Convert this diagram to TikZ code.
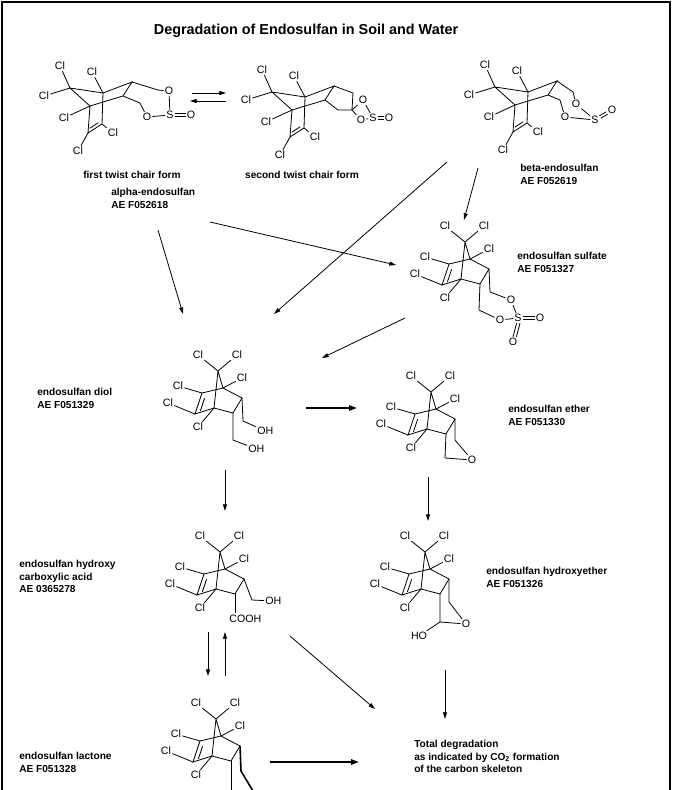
\documentclass[tikz,border=0pt]{standalone}
\usepackage{fontspec}
\setmainfont{Liberation Sans}
\usetikzlibrary{arrows.meta,calc,positioning}

\tikzset{
  bond/.style={line width=0.6pt},
  cl/.style={inner sep=0.8pt,font=\fontsize{8}{8.5}\selectfont},
  lbl/.style={inner sep=0pt,anchor=north west,align=left,font=\bfseries\fontsize{7.6}{9.4}\selectfont},
  route/.style={line width=0.6pt,-{Triangle[length=5pt,width=3pt]}},
  bigroute/.style={line width=1.3pt,-{Triangle[length=6pt,width=4pt]}},
}

% hexachloro core, upright view, origin at the bridge carbon
\newcommand{\uprightcore}{%
  \coordinate (c7) at (0,0);
  \coordinate (c1) at (5,17);
  \coordinate (c5) at (24,27);
  \coordinate (c6) at (15,42);
  \coordinate (c4) at (-4,37);
  \coordinate (c2) at (-16,22);
  \coordinate (c3) at (-23,43);
  \node[cl] (x1) at (-20,-16) {Cl};
  \node[cl] (x2) at (19,-16) {Cl};
  \node[cl] (x3) at (24,7) {Cl};
  \node[cl] (x4) at (-40,15) {Cl};
  \node[cl] (x5) at (-50,32) {Cl};
  \node[cl] (x6) at (-20,56) {Cl};
  \draw[bond] (c7) -- (c1) -- (c5) -- (c6) -- (c4) -- (c7);
  \draw[bond] (c1) -- (c2) -- (c3) -- (c4);
  \draw[bond] ($(c2)!.2!(c3)+(4,1)$) -- ($(c2)!.8!(c3)+(4,1)$);
  \draw[bond] (c7) -- (x1) (c7) -- (x2) (c1) -- (x3)
              (c2) -- (x4) (c3) -- (x5) (c4) -- (x6);
}

% hexachloro core, twist chair view, origin at the CCl2 carbon
\newcommand{\sidecore}{%
  \coordinate (c7) at (0,0);
  \coordinate (ca) at (33,5);
  \coordinate (cb) at (20,18);
  \coordinate (c2) at (32,36);
  \coordinate (c3) at (18,45);
  \coordinate (c5) at (62,-6);
  \coordinate (c6) at (53,8);
  \node[cl] (x1) at (-10,-22) {Cl};
  \node[cl] (x2) at (-26,8) {Cl};
  \node[cl] (x3) at (22,-16) {Cl};
  \node[cl] (x4) at (-6,30) {Cl};
  \node[cl] (x5) at (43,45) {Cl};
  \node[cl] (x6) at (8,63) {Cl};
  \draw[bond] (x1) -- (c7) -- (ca) -- (c5) -- (c6) -- (cb) -- (c7) -- (x2);
  \draw[bond] (ca) -- (x3) (cb) -- (x4) (c2) -- (x5) (c3) -- (x6);
  \draw[bond] (ca) -- (c2) -- (c3) -- (cb);
  \draw[bond] ($(c2)!.2!(c3)+(-1,-3)$) -- ($(c2)!.8!(c3)+(-1,-3)$);
}

\begin{document}
\begin{tikzpicture}[x=0.75pt,y=-0.75pt]
\useasboundingbox (0,0) rectangle (678,790);
\draw[line width=0.8pt] (2,800) -- (2,2) -- (670,2) -- (670,800);

\node[inner sep=0pt,font=\bfseries\fontsize{10.8}{12}\selectfont] (title) at (306,31)
  {Degradation of Endosulfan in Soil and Water};

% alpha-endosulfan, first twist chair form
\begin{scope}[shift={(70,88)}]
  \sidecore
  \node[cl] (o1) at (99,3) {O};
  \node[cl] (o2) at (77,29) {O};
  \node[cl] (s) at (100,27) {S};
  \node[cl] (so) at (121,27) {O};
  \draw[bond] (c5) -- (88,2) -- (o1);
  \draw[bond] (c6) -- (70,15) -- (o2);
  \draw[bond] (o1) -- (s) -- (o2);
  \draw[bond] ([yshift=1pt]s.east) -- ([yshift=1pt]so.west);
  \draw[bond] ([yshift=-1pt]s.east) -- ([yshift=-1pt]so.west);
\end{scope}

% alpha-endosulfan, second twist chair form
\begin{scope}[shift={(272,92)}]
  \sidecore
  \coordinate (sp) at (80,18);
  \node[cl] (o1) at (91,8) {O};
  \node[cl] (o2) at (89,28) {O};
  \node[cl] (s) at (101,26) {S};
  \node[cl] (so) at (117,26) {O};
  \draw[bond] (c5) -- (81,1) -- (sp) -- (66,18) -- (c6);
  \draw[bond] (sp) -- (o1) (sp) -- (o2);
  \draw[bond] (o1) -- (s) -- (o2);
  \draw[bond] ([yshift=1pt]s.east) -- ([yshift=1pt]so.west);
  \draw[bond] ([yshift=-1pt]s.east) -- ([yshift=-1pt]so.west);
\end{scope}

% beta-endosulfan
\begin{scope}[shift={(495,87)}]
  \sidecore
  \node[cl] (o1) at (81,17) {O};
  \node[cl] (o2) at (70,30) {O};
  \node[cl] (s) at (100,33) {S};
  \node[cl] (so) at (117,23) {O};
  \draw[bond] (c5) -- (78,5) -- (o1);
  \draw[bond] (c6) -- (65,13) -- (o2);
  \draw[bond] (o1) -- (s) -- (o2);
  \draw[bond] ($(s)!.3!(so)+(-0.7,-1.2)$) -- ($(s)!.7!(so)+(-0.7,-1.2)$);
  \draw[bond] ($(s)!.3!(so)+(0.7,1.2)$) -- ($(s)!.7!(so)+(0.7,1.2)$);
\end{scope}

% endosulfan sulfate
\begin{scope}[shift={(465,242)}]
  \uprightcore
  \node[cl] (o1) at (46,58) {O};
  \node[cl] (o2) at (35,78) {O};
  \node[cl] (s) at (53,76) {S};
  \node[cl] (so) at (75,76) {O};
  \node[cl] (sb) at (48,100) {O};
  \draw[bond] (c5) -- (25,50) -- (o1);
  \draw[bond] (c6) -- (14,68) -- (o2);
  \draw[bond] (o1) -- (s) -- (o2);
  \draw[line width=1pt] ([yshift=1.2pt]s.east) -- ([yshift=1.2pt]so.west);
  \draw[line width=1pt] ([yshift=-1.2pt]s.east) -- ([yshift=-1.2pt]so.west);
  \draw[bond] ([xshift=-1pt]s.south) -- ([xshift=0pt]sb.north);
  \draw[bond] ([xshift=1.5pt]s.south) -- ([xshift=2.5pt]sb.north);
\end{scope}

% endosulfan diol
\begin{scope}[shift={(218,371)}]
  \uprightcore
  \node[cl,anchor=west] (oh1) at (38,60) {OH};
  \node[cl,anchor=west] (oh2) at (29,78) {OH};
  \draw[bond] (c5) -- (25,50) -- (oh1);
  \draw[bond] (c6) -- (15,69) -- (oh2);
\end{scope}

% endosulfan ether
\begin{scope}[shift={(431,392)}]
  \uprightcore
  \node[cl] (oe) at (41,68) {O};
  \draw[bond] (c5) -- (24,48) -- (oe) -- (14,66) -- (c6);
\end{scope}

% endosulfan hydroxy carboxylic acid
\begin{scope}[shift={(220,552)}]
  \uprightcore
  \node[cl,anchor=west] (oh) at (44,49) {OH};
  \node[cl,anchor=west] (cooh) at (8,67) {COOH};
  \draw[bond] (c5) -- (32,48) -- (oh);
  \draw[bond] (c6) -- (15,61);
\end{scope}

% endosulfan hydroxyether
\begin{scope}[shift={(425,552)}]
  \uprightcore
  \coordinate (ch) at (15,70);
  \node[cl] (oe) at (41,72) {O};
  \node[cl] (ho) at (-6,84) {HO};
  \draw[bond] (c5) -- (24,50) -- (oe) -- (ch) -- (c6);
  \draw[bond] (ch) -- (ho);
\end{scope}

% endosulfan lactone
\begin{scope}[shift={(216,719)}]
  \uprightcore
  \draw[line width=1.2pt] (c5) -- (25,52) -- (37,72);
  \draw[bond] (c6) -- (15,72);
\end{scope}

% names
\node[cl,font=\bfseries\fontsize{7.6}{9}\selectfont] (ftc) at (132,175) {first twist chair form};
\node[cl,font=\bfseries\fontsize{7.6}{9}\selectfont] (stc) at (302,175) {second twist chair form};
\node[lbl] (alpha) at (111,188) {alpha-endosulfan\\AE F052618};
\node[lbl] (beta) at (520,164) {beta-endosulfan\\AE F052619};
\node[lbl] (sulf) at (517,252) {endosulfan sulfate\\AE F051327};
\node[lbl] (diol) at (37,388) {endosulfan diol\\AE F051329};
\node[lbl] (ether) at (508,405) {endosulfan ether\\AE F051330};
\node[lbl] (acid) at (19,560) {endosulfan hydroxy\\carboxylic acid\\AE 0365278};
\node[lbl] (hyeth) at (486,567) {endosulfan hydroxyether\\AE F051326};
\node[lbl] (lact) at (19,752) {endosulfan lactone\\AE F051328};
\node[lbl] (total) at (414,740) {Total degradation\\as indicated by CO$_{\mathbf 2}$ formation\\of the carbon skeleton};

% arrow ends
\coordinate (e1a) at (192,93);  \coordinate (e1b) at (226,93);
\coordinate (e2a) at (226,101); \coordinate (e2b) at (190,101);
\coordinate (a1) at (158,230);  \coordinate (a2) at (183,314);
\coordinate (b1) at (210,222);  \coordinate (b2) at (396,265);
\coordinate (d1) at (447,162);  \coordinate (d2) at (274,314);
\coordinate (f1) at (478,168);  \coordinate (f2) at (464,220);
\coordinate (g1) at (405,318);  \coordinate (g2) at (322,358);
\coordinate (h1) at (306,408);  \coordinate (h2) at (357,408);
\coordinate (i1) at (225,470);  \coordinate (i2) at (225,511);
\coordinate (j1) at (428,477);  \coordinate (j2) at (428,521);
\coordinate (k1) at (208,632);  \coordinate (k2) at (208,676);
\coordinate (l1) at (225,676);  \coordinate (l2) at (225,632);
\coordinate (m1) at (290,636);  \coordinate (m2) at (375,709);
\coordinate (n1) at (445,670);  \coordinate (n2) at (445,719);
\coordinate (p1) at (270,762);  \coordinate (p2) at (359,762);

\draw[route] (e1a) -- (e1b);
\draw[route] (e2a) -- (e2b);
\draw[route] (a1) -- (a2);
\draw[route] (b1) -- (b2);
\draw[route] (d1) -- (d2);
\draw[route] (f1) -- (f2);
\draw[route] (g1) -- (g2);
\draw[bigroute] (h1) -- (h2);
\draw[route] (i1) -- (i2);
\draw[route] (j1) -- (j2);
\draw[route] (k1) -- (k2);
\draw[route] (l1) -- (l2);
\draw[route] (m1) -- (m2);
\draw[route] (n1) -- (n2);
\draw[bigroute] (p1) -- (p2);
\end{tikzpicture}
\end{document}
